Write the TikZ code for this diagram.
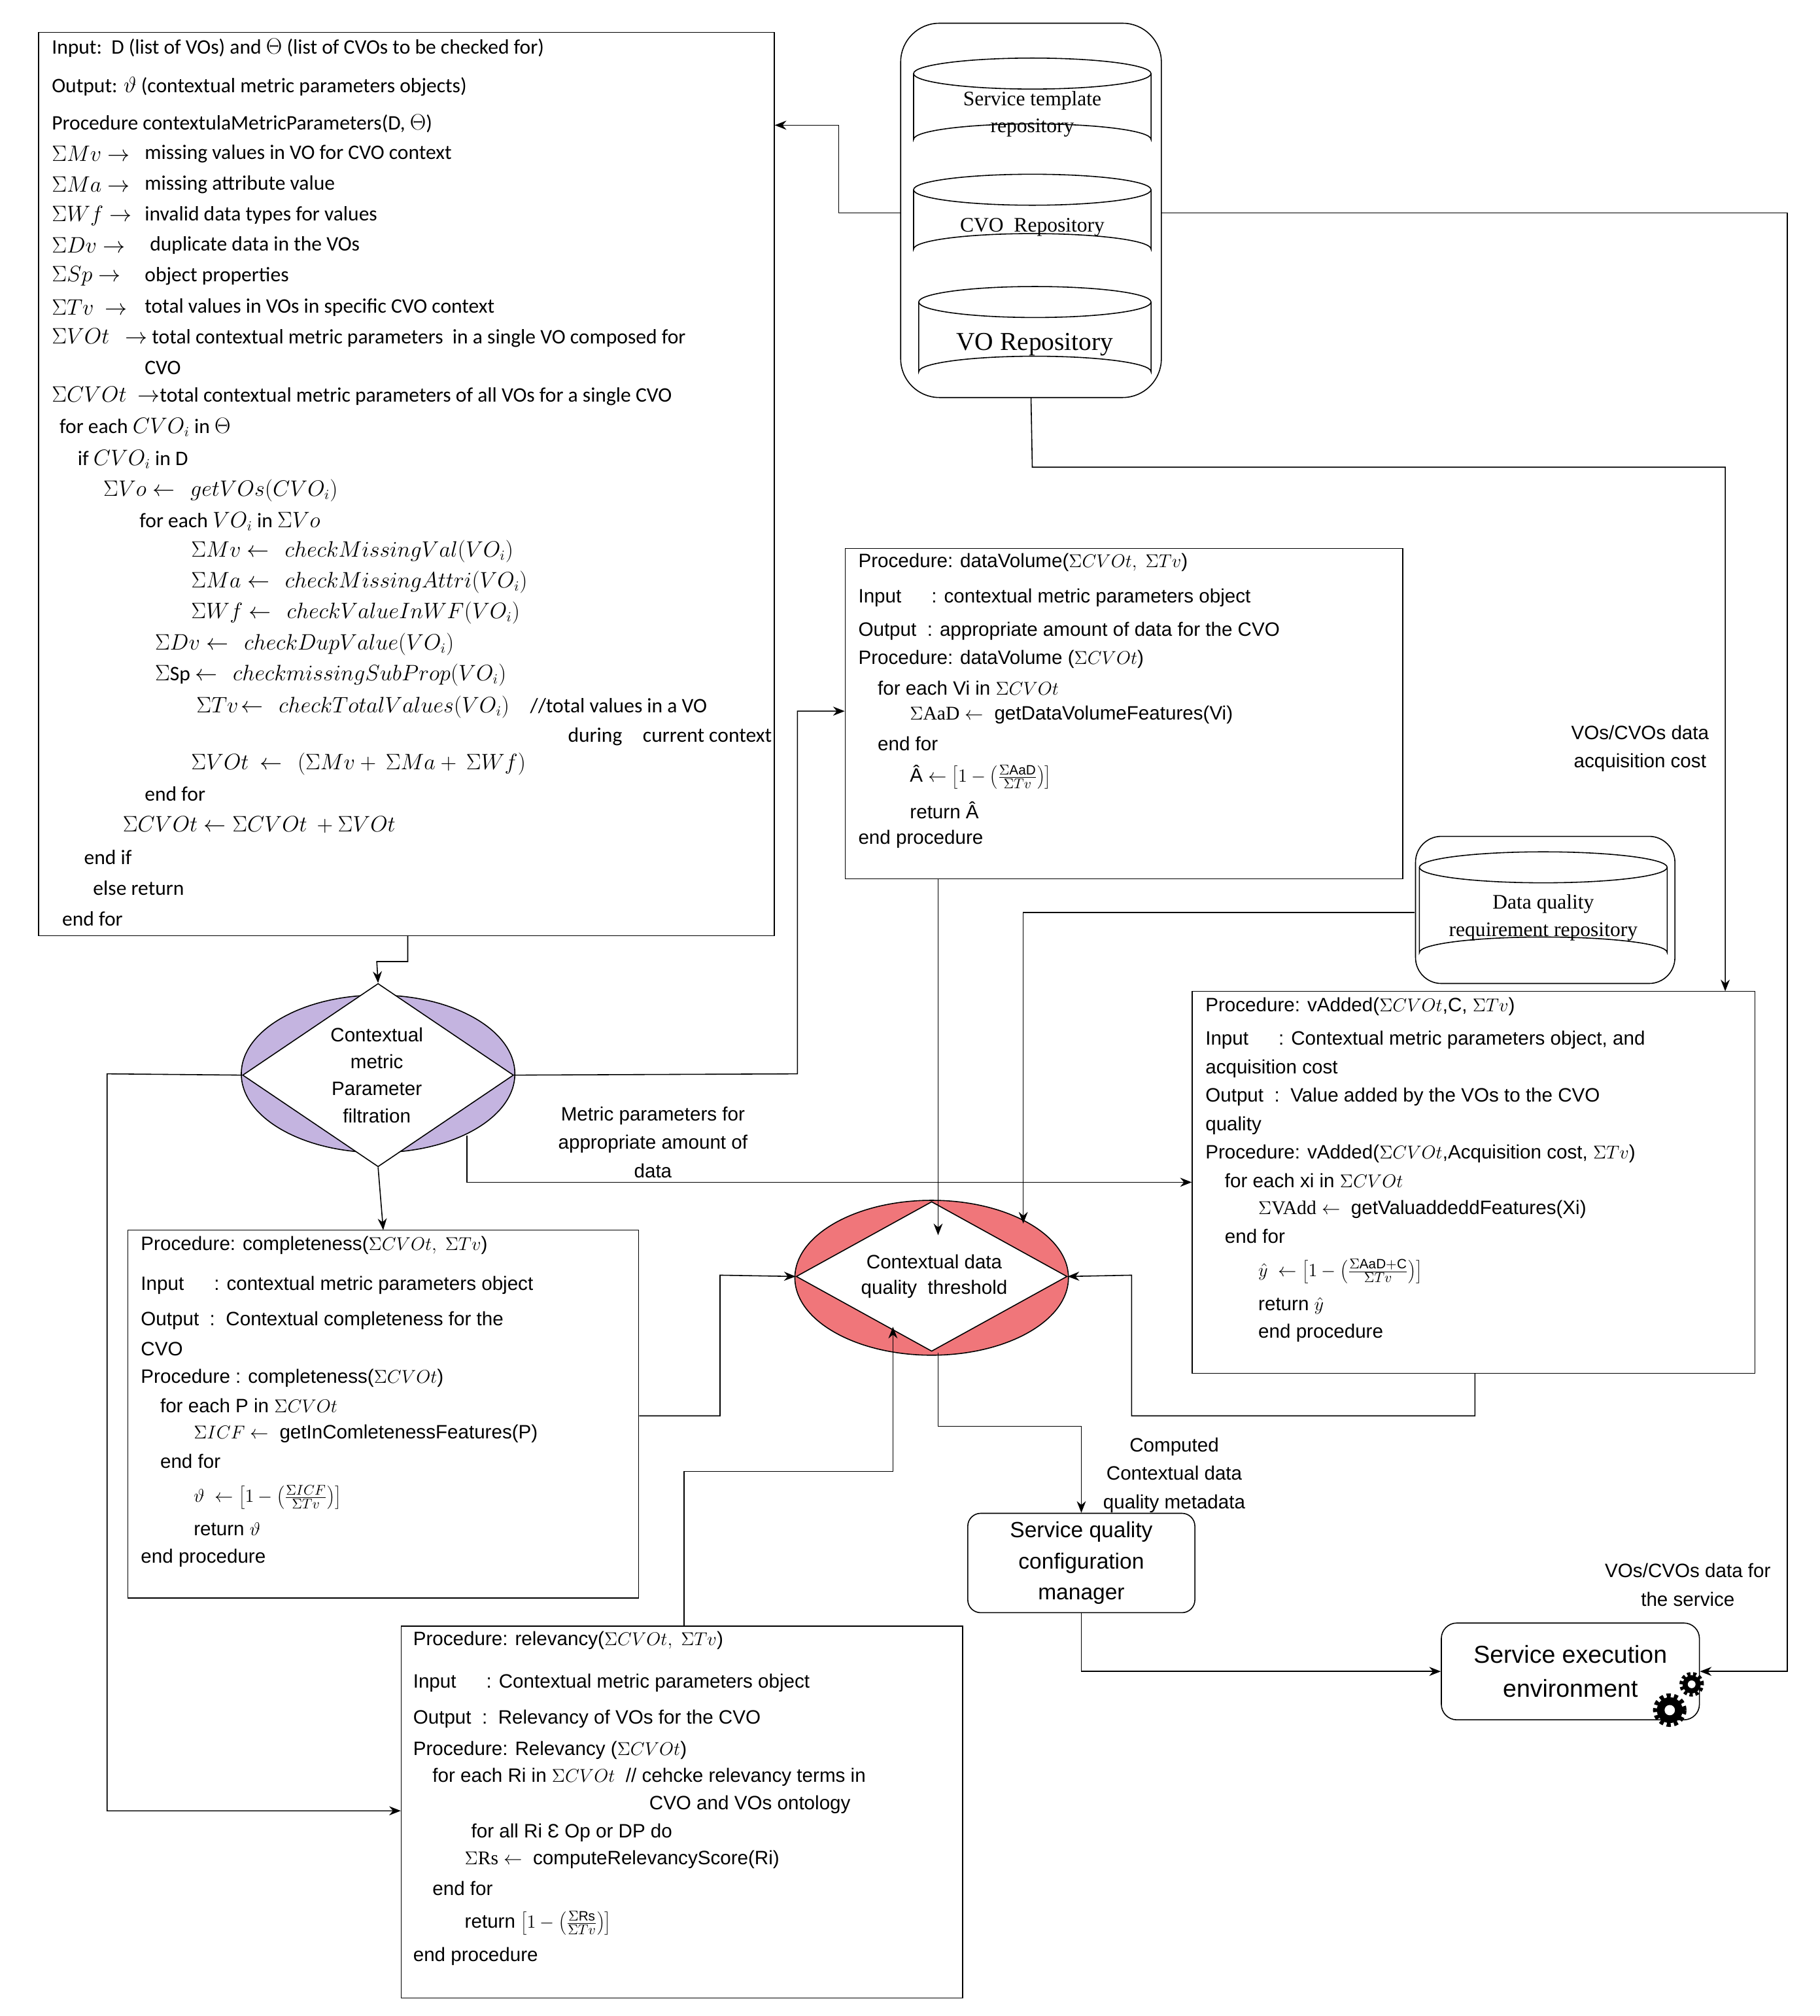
\documentclass[tikz,border=0pt]{standalone}
\usepackage{fontspec}
\setmainfont{Liberation Sans}
\newfontfamily\calfnt{Carlito}
\newfontfamily\srf{Liberation Serif}
\usetikzlibrary{arrows.meta,shapes.geometric}
\newcounter{tl}
\newcommand\TL[3]{\stepcounter{tl}\node[txt] (t\thetl) at (#1,#2) {#3};}
\newcommand\BR[1]{\left[1-\left(\frac{#1}{\Sigma Tv}\right)\right]}
\newcommand\CYL[5]{% name x1 y1 x2 y2
 \draw[thick,fill=white] (#2,#3+12) -- (#2,#5-12) arc[start angle=180,end angle=360,x radius=(#4-#2)/2,y radius=12] -- (#4,#3+12);
 \draw[thick,fill=white] ({(#2+#4)/2},#3+12) ellipse[x radius=(#4-#2)/2,y radius=12];
 \coordinate (#1) at ({(#2+#4)/2},{(#3+#5)/2+6});}
\begin{document}
\begin{tikzpicture}[x=1pt,y=-1pt,
 txt/.style={anchor=west,inner sep=0pt,font=\fontsize{15}{18}\selectfont},
 box/.style={draw,thick},
 ar/.style={-{Stealth[length=9pt,width=7pt]},thick},
 lab/.style={align=center,font=\fontsize{14.5}{21}\selectfont,inner sep=0pt}]
\useasboundingbox (0,0) rectangle (1410,1562);
% ---------- left box
\node[box,minimum width=570pt,minimum height=700pt] (L) at (315,375) {};
\begin{scope}[txt/.append style={font=\calfnt\fontsize{16}{19}\selectfont}]
\TL{40}{37}{Input:\ \ D (list of VOs) and $\Theta$ (list of CVOs to be checked for)}
\TL{40}{67}{Output: $\vartheta$ (contextual metric parameters objects)}
\TL{40}{96}{Procedure contextulaMetricParameters(D, $\Theta$)}
\TL{40}{119}{$\Sigma Mv\rightarrow$}\TL{112}{119}{missing values in VO for CVO context}
\TL{40}{143}{$\Sigma Ma\rightarrow$}\TL{112}{143}{missing attribute value}
\TL{40}{167}{$\Sigma Wf\rightarrow$}\TL{112}{167}{invalid data types for values}
\TL{40}{190}{$\Sigma Dv\rightarrow$}\TL{116}{190}{duplicate data in the VOs}
\TL{40}{214}{$\Sigma Sp\rightarrow$}\TL{112}{214}{object properties}
\TL{40}{238}{$\Sigma Tv\ \rightarrow$}\TL{112}{238}{total values in VOs in specific CVO context}
\TL{40}{262}{$\Sigma VOt\ \ \rightarrow$\ total contextual metric parameters\ \ in a single VO composed for}
\TL{112}{285}{CVO}
\TL{40}{307}{$\Sigma CVOt\ \rightarrow$total contextual metric parameters of all VOs for a single CVO}
\TL{46}{331}{for each $CVO_i$ in $\Theta$}
\TL{60}{356}{if $CVO_i$ in D}
\TL{80}{380}{$\Sigma Vo\leftarrow\ \ getVOs(CVO_i)$}
\TL{108}{404}{for each $VO_i$ in $\Sigma Vo$}
\TL{148}{427}{$\Sigma Mv\leftarrow\ \ checkMissingVal(VO_i)$}
\TL{148}{451}{$\Sigma Ma\leftarrow\ \ checkMissingAttri(VO_i)$}
\TL{148}{475}{$\Sigma Wf\leftarrow\ \ checkValueInWF(VO_i)$}
\TL{120}{499}{$\Sigma Dv\leftarrow\ \ checkDupValue(VO_i)$}
\TL{120}{523}{$\Sigma$Sp $\leftarrow\ \ checkmissingSubProp(VO_i)$}
\TL{152}{548}{$\Sigma Tv\!\leftarrow\ \ checkTotalValues(VO_i)$\quad //total values in a VO}
\TL{440}{571}{during\quad current context}
\TL{148}{592}{$\Sigma VOt\ \leftarrow\ \ (\Sigma Mv+\ \Sigma Ma+\ \Sigma Wf)$}
\TL{112}{615}{end for}
\TL{95}{639}{$\Sigma CVOt\leftarrow \Sigma CVOt\ +\Sigma VOt$}
\TL{65}{664}{end if}
\TL{72}{688}{else return}
\TL{48}{712}{end for}
\end{scope}
% ---------- repository container
\draw[thick,rounded corners=30pt] (698,18) rectangle (900,308);
\node[draw=none,inner sep=0pt,minimum width=202pt,minimum height=290pt] (rep) at (799,163) {};
\CYL{c1}{708}{45}{892}{120}
\node[lab,font=\srf\fontsize{16}{21}\selectfont] (n1) at (c1) {Service template\\repository};
\CYL{c2}{708}{135}{892}{205}
\node[lab,font=\srf\fontsize{16}{21}\selectfont] (n2) at (c2) {CVO\ \ Repository};
\CYL{c3}{712}{222}{892}{300}
\node[lab,font=\srf\fontsize{20}{24}\selectfont] (n3) at (c3) {VO Repository};
% ---------- dataVolume
\node[box,minimum width=432pt,minimum height=256pt] (DV) at (871,553) {};
\TL{665}{436}{Procedure: dataVolume($\Sigma CVOt,\ \Sigma Tv$)}
\TL{665}{463}{Input\quad\ \ : contextual metric parameters object}
\TL{665}{489}{Output\ \ : appropriate amount of data for the CVO}
\TL{665}{511}{Procedure: dataVolume ($\Sigma CVOt$)}
\TL{680}{533}{for each Vi in $\Sigma CVOt$}
\TL{705}{554}{{\srf $\Sigma$AaD} $\leftarrow$\ \ getDataVolumeFeatures(Vi)}
\TL{680}{576}{end for}
\TL{705}{602}{\^A $\leftarrow \BR{\Sigma\mathrm{AaD}}$}
\TL{705}{628}{return \^A}
\TL{665}{650}{end procedure}
% ---------- data quality repo
\draw[thick,rounded corners=20pt] (1097,648) rectangle (1298,762);
\node[inner sep=0pt,minimum width=201pt,minimum height=114pt] (DQ) at (1197,705) {};
\CYL{c4}{1100}{660}{1292}{750}
\node[lab,font=\srf\fontsize{16}{21}\selectfont] (n4) at (c4) {Data quality\\requirement repository};
% ---------- vAdded
\node[box,minimum width=436pt,minimum height=296pt] (VA) at (1142,916) {};
\TL{934}{780}{Procedure: vAdded($\Sigma CVOt$,C, $\Sigma Tv$)}
\TL{934}{806}{Input\quad\ \ : Contextual metric parameters object, and}
\TL{934}{828}{acquisition cost}
\TL{934}{850}{Output\ \ :\ \ Value added by the VOs to the CVO}
\TL{934}{872}{quality}
\TL{934}{894}{Procedure: vAdded($\Sigma CVOt$,Acquisition cost, $\Sigma Tv$)}
\TL{949}{915}{for each xi in $\Sigma CVOt$}
\TL{975}{937}{{\srf $\Sigma$VAdd} $\leftarrow$\ \ getValuaddeddFeatures(Xi)}
\TL{949}{958}{end for}
\TL{975}{985}{$\hat{y}\ \leftarrow \BR{\Sigma\mathrm{AaD+C}}$}
\TL{975}{1012}{return $\hat{y}$}
\TL{975}{1033}{end procedure}
% ---------- completeness
\node[box,minimum width=396pt,minimum height=285pt] (CO) at (297,1095.5) {};
\TL{109}{965}{Procedure: completeness($\Sigma CVOt,\ \Sigma Tv$)}
\TL{109}{996}{Input\quad\ \ : contextual metric parameters object}
\TL{109}{1023}{Output\ \ :\ \ Contextual completeness for the}
\TL{109}{1045}{CVO}
\TL{109}{1068}{Procedure : completeness($\Sigma CVOt$)}
\TL{124}{1089}{for each P in $\Sigma CVOt$}
\TL{150}{1111}{$\Sigma ICF\leftarrow$\ \ getInComletenessFeatures(P)}
\TL{124}{1132}{end for}
\TL{150}{1160}{$\vartheta\ \leftarrow \BR{\Sigma ICF}$}
\TL{150}{1185}{return $\vartheta$}
\TL{109}{1207}{end procedure}
% ---------- relevancy
\node[box,minimum width=435pt,minimum height=288pt] (RE) at (528.5,1404) {};
\TL{320}{1271}{Procedure: relevancy($\Sigma CVOt,\ \Sigma Tv$)}
\TL{320}{1304}{Input\quad\ \ : Contextual metric parameters object}
\TL{320}{1332}{Output\ \ :\ \ Relevancy of VOs for the CVO}
\TL{320}{1356}{Procedure: Relevancy ($\Sigma CVOt$)}
\TL{335}{1377}{for each Ri in $\Sigma CVOt$\ \ // cehcke relevancy terms in}
\TL{503}{1398}{CVO and VOs ontology}
\TL{365}{1420}{for all Ri Ɛ Op or DP do}
\TL{360}{1441}{{\srf $\Sigma$Rs} $\leftarrow$\ \ computeRelevancyScore(Ri)}
\TL{335}{1463}{end for}
\TL{360}{1490}{return $\BR{\Sigma\mathrm{Rs}}$}
\TL{320}{1516}{end procedure}
% ---------- ellipses
\node[ellipse,draw,thick,fill={rgb,255:red,196;green,180;blue,224},minimum width=212pt,minimum height=122pt] (E1) at (293,832) {};
\node[diamond,draw,thick,fill=white,minimum width=210pt,minimum height=142pt,inner sep=0pt] (D1) at (293,833) {};
\node[lab,font=\fontsize{15}{21}\selectfont] (D1t) at (292,833) {Contextual\\metric\\Parameter\\filtration};
\node[ellipse,draw,thick,fill={rgb,255:red,240;green,118;blue,122},minimum width=212pt,minimum height=120pt] (E2) at (722,990) {};
\node[diamond,draw,thick,fill=white,minimum width=210pt,minimum height=116pt,inner sep=0pt] (D2) at (722,989) {};
\node[lab,font=\fontsize{15}{20}\selectfont] (D2t) at (724,989) {Contextual data\\quality\ \ threshold};
% ---------- manager / env
\node[draw,thick,rounded corners=10pt,minimum width=176pt,minimum height=77pt,align=center,font=\fontsize{17}{24}\selectfont] (SQ) at (838,1211) {Service quality\\configuration\\manager};
\node[draw,thick,rounded corners=12pt,minimum width=200pt,minimum height=75pt,align=center,font=\fontsize{19}{26}\selectfont] (SE) at (1217,1295) {Service execution\\environment};
\begin{scope}
\fill (1294,1325) circle (10pt); \draw[line width=4pt,dash pattern=on 3pt off 2.5pt] (1294,1325) circle (11pt);
\fill[white] (1294,1325) circle (4pt);
\fill (1311,1305) circle (7pt); \draw[line width=3pt,dash pattern=on 2.5pt off 2pt] (1311,1305) circle (8pt);
\fill[white] (1311,1305) circle (3pt);
\end{scope}
% ---------- connectors
\draw[ar] (rep.west|-0,165) -- (650,165) -- (650,97) -- (L.east|-0,97);
\draw[ar] (rep.east|-0,165) -- (1385,165) -- (1385,1295) -- (SE.east);
\draw[ar] (rep.south) -- (800,362) -- (1337,362) -- (1337,768);
\node[lab,font=\fontsize{15}{22}\selectfont] (l1) at (1271,580) {VOs/CVOs data\\acquisition cost};
\draw[ar] (316,725) -- (316,745) -- (292,745) -- (D1.north);
\draw[ar] (D1.east) -- (618,832) -- (618,551) -- (DV.west|-0,551);
\draw[ar] (D1.south) -- (297,953);
\draw[ar] (D1.west) -- (83,832) -- (83,1403) -- (RE.west|-0,1403);
\draw[ar] (362,880) -- (362,916) -- (VA.west|-0,916);
\node[lab,font=\fontsize{15}{22}\selectfont] (l2) at (506,885) {Metric parameters for\\appropriate amount of\\data};
\draw[ar] (727,681) -- (727,957);
\draw[ar] (DQ.west|-0,707) -- (793,707) -- (793,948);
\draw[ar] (1143,1064) -- (1143,1097) -- (877,1097) -- (877,988) -- (D2.east);
\draw[ar] (CO.east|-0,1097) -- (558,1097) -- (558,988) -- (D2.west);
\draw[ar] (530,1260) -- (530,1140) -- (692,1140) -- (692,1028);
\draw[ar] (727,1048) -- (727,1105) -- (838,1105) -- (SQ.north);
\node[lab,font=\fontsize{15}{22}\selectfont] (l3) at (910,1143) {Computed\\Contextual data\\quality metadata};
\draw[ar] (SQ.south) -- (838,1295) -- (SE.west);
\node[lab,font=\fontsize{15}{22}\selectfont] (l4) at (1308,1228) {VOs/CVOs data for\\the service};
\end{tikzpicture}
\end{document}
